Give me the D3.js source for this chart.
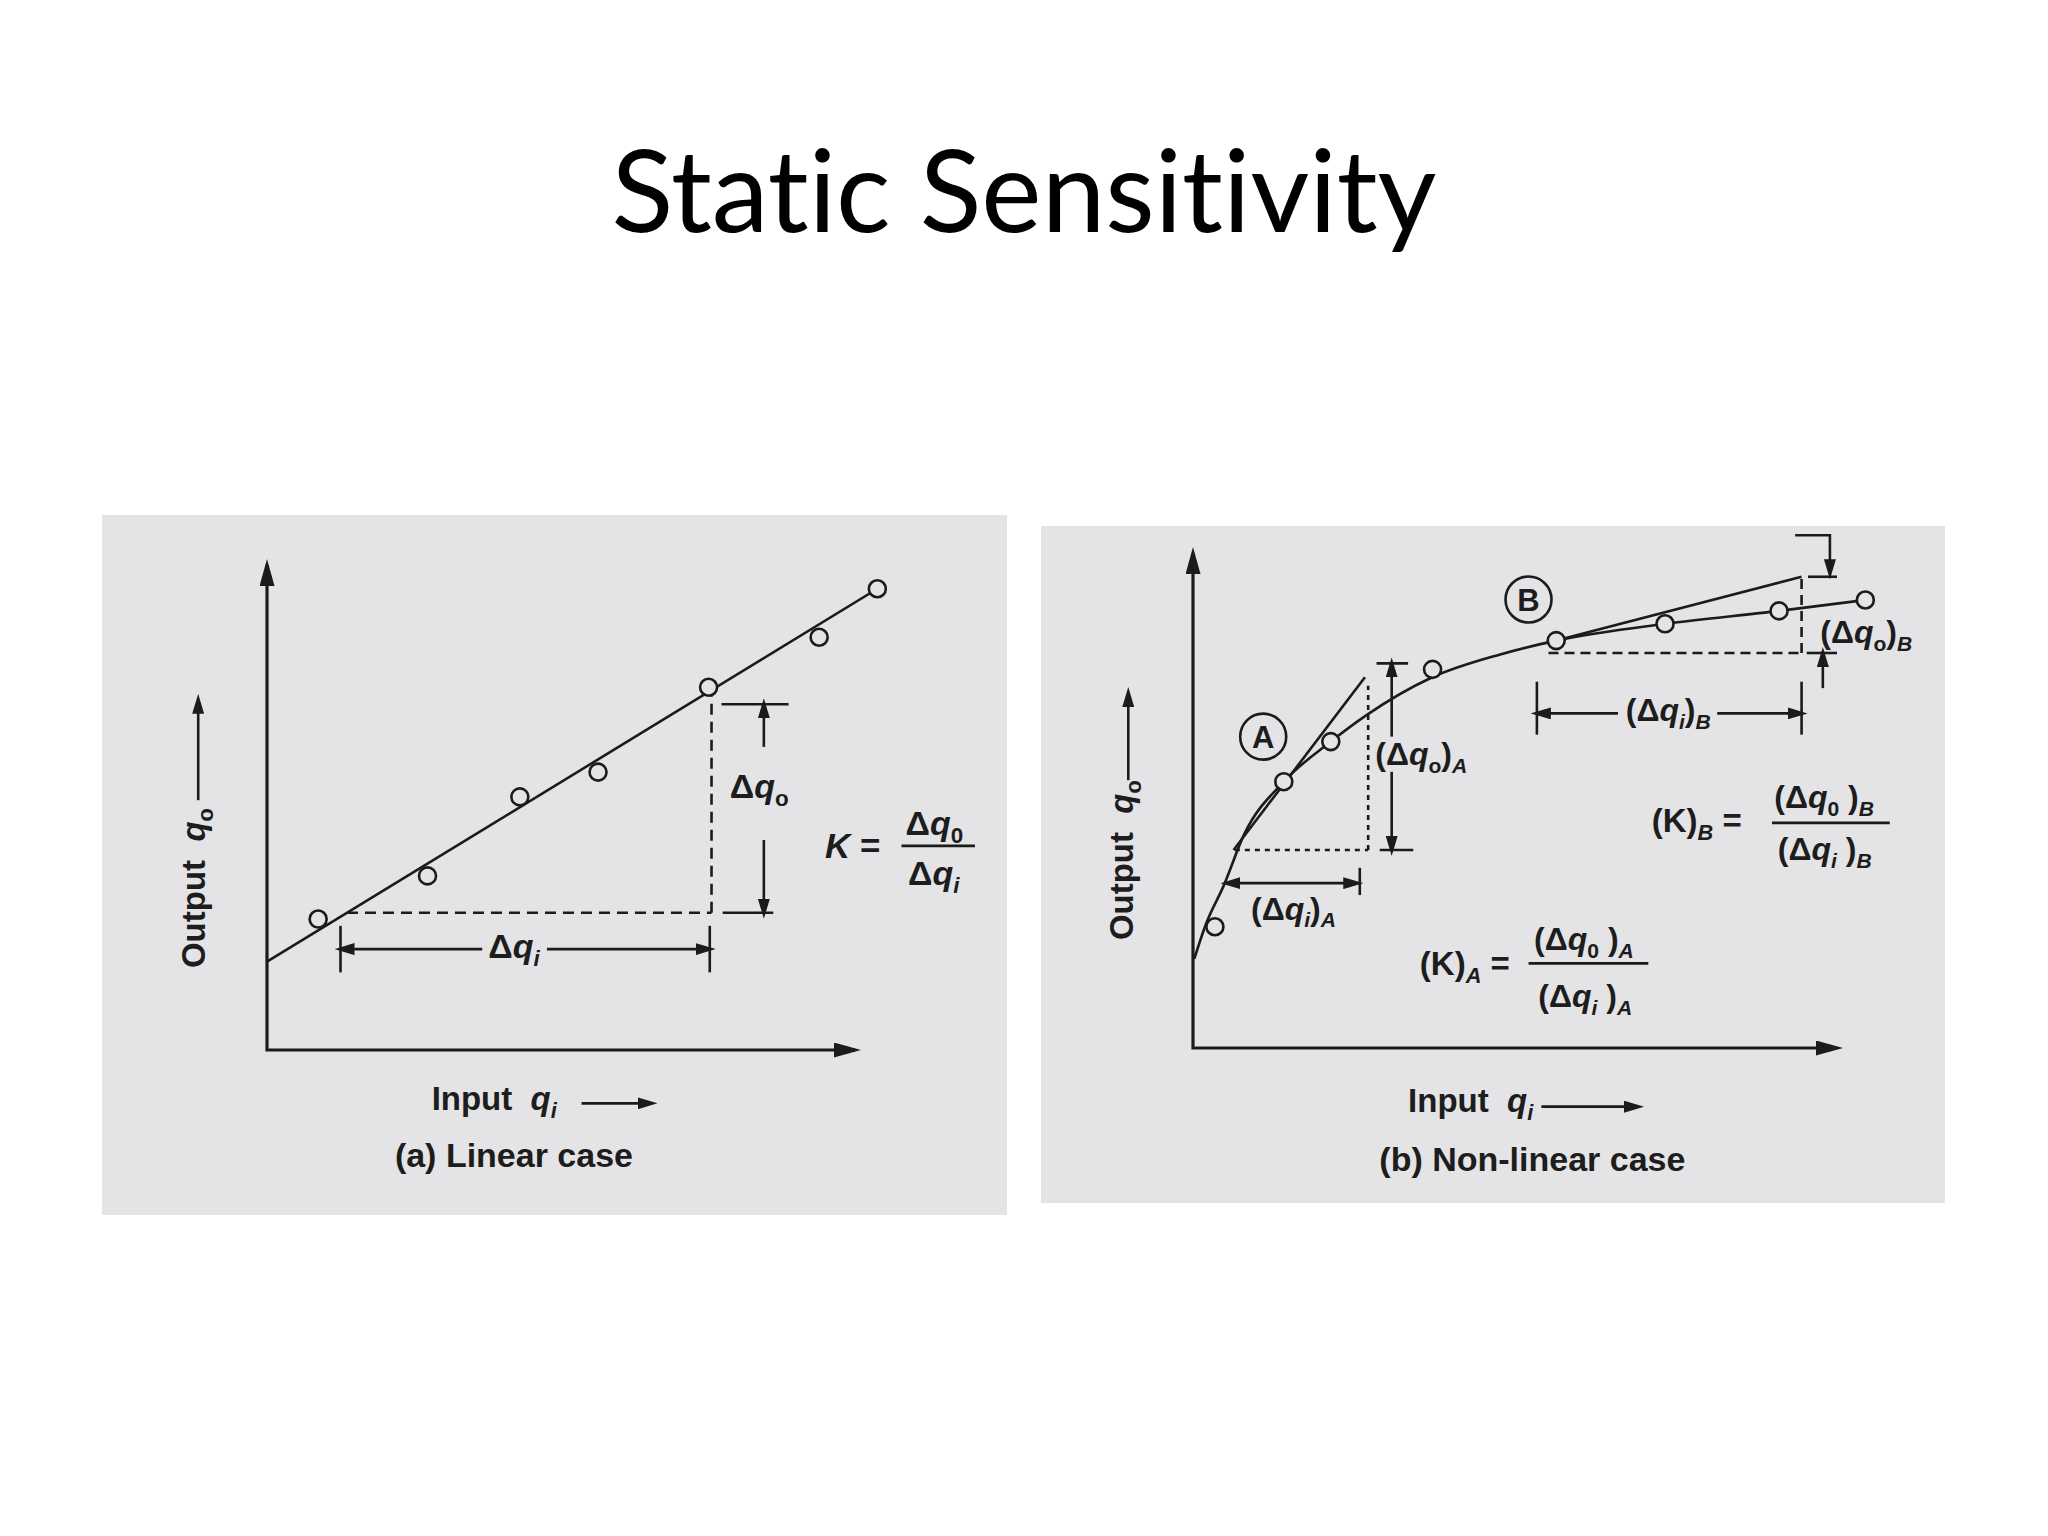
<!DOCTYPE html>
<html>
<head>
<meta charset="utf-8">
<script src="https://cdn.jsdelivr.net/npm/d3@7"></script>
<style>
    html, body { margin: 0; padding: 0; background: #fff; }
    svg text { font-family: "Liberation Sans", Arial, sans-serif; font-weight: bold; fill: #1d1d1d; white-space: pre; font-variant-ligatures: none; }
</style>
</head>
<body>
<svg id="slide"></svg>
<script>

// ---- data (axis units: 0-100 along each drawn axis arrow) ----

// (a) linear case: calibration points and the fitted straight line
const linInput  = [8.7, 27.3, 43.0, 56.3, 75.1, 93.9, 103.8]
const linOutput = [27.0, 35.9, 52.2, 57.3, 74.8, 85.1, 95.1]
const linFitIn  = [0, 103.8]
const linFitOut = [18.2, 95.1]

// (b) non-linear case: calibration points, calibration curve and the two tangents
const nlInput  = [3.4, 14.1, 21.4, 37.2, 56.4, 73.3, 91.0, 104.4]
const nlOutput = [24.5, 53.8, 61.9, 76.5, 82.3, 85.7, 88.3, 90.5]
const nlCurveIn  = [0.2, 2, 4.7, 8, 14.1, 21.4, 27, 37, 47.7, 56.4, 73.3, 91.0, 104.4]
const nlCurveOut = [18, 25, 32.6, 43.3, 53.8, 61.9, 67.3, 74.8, 79.5, 82.3, 85.7, 88.3, 90.5]
const tangentAIn  = [6.3, 26.7]
const tangentAOut = [40.0, 74.9]
const tangentBIn  = [56.4, 94.5]
const tangentBOut = [82.3, 95.2]

// labels
const titleText = 'Static Sensitivity'
const captionA = '(a) Linear case'
const captionB = '(b) Non-linear case'

const ink = '#1b1b1b'
const bg = '#e4e4e6'

const svg = d3.select('#slide')
    .attr('width', 2048)
    .attr('height', 1536)

svg.append('rect')
    .attr('width', 2048)
    .attr('height', 1536)
    .attr('fill', '#fff')

// arrow heads
const defs = svg.append('defs')
const makeMarker = (id, len, half) => {
    defs.append('marker')
        .attr('id', id)
        .attr('viewBox', `${-len} ${-half} ${len + 3} ${half * 2}`)
        .attr('refX', -3)
        .attr('refY', 0)
        .attr('markerUnits', 'userSpaceOnUse')
        .attr('markerWidth', len + 3)
        .attr('markerHeight', half * 2)
        .attr('orient', 'auto-start-reverse')
        .append('path')
        .attr('d', `M3,0L${-len},${-half}L${-len},${half}Z`)
        .attr('fill', ink)
}
makeMarker('ax', 24, 7.5)
makeMarker('ah', 17, 6)

// title
const title = svg.append('text')
    .attr('x', 1024)
    .attr('y', 232)
    .attr('text-anchor', 'middle')
    .style('font-family', 'Lato, "Open Sans", sans-serif')
    .style('font-weight', 'normal')
    .style('fill', '#000')
    .style('font-size', '120px')
    .text(titleText)
const tw = title.node().getComputedTextLength()
title.style('font-size', (120 * 825 / tw) + 'px')

// text with italic / subscript pieces: segs = [[string, flags]] flags: i = italic, s = subscript
const rich = (g, x, y, segs, opt = {}) => {
    const size = opt.size || 33
    const t = g.append('text')
        .attr('x', x)
        .attr('y', y)
        .attr('text-anchor', opt.anchor || 'start')
        .style('font-size', size + 'px')
    if (opt.rotate) t.attr('transform', `rotate(${opt.rotate},${x},${y})`)
    const shift = size * 0.24
    let down = false
    segs.forEach(([str, flags = '']) => {
        const sp = t.append('tspan').text(str)
        if (flags.includes('i')) sp.style('font-style', 'italic')
        const sub = flags.includes('s')
        if (sub) sp.style('font-size', (size * 0.66) + 'px')
        if (sub && !down) { sp.attr('dy', shift); down = true }
        else if (!sub && down) { sp.attr('dy', -shift); down = false }
    })
    return t
}

const makePanel = (box, s) => {
    const g = svg.append('g')
    g.append('rect')
        .attr('x', box[0])
        .attr('y', box[1])
        .attr('width', box[2] - box[0])
        .attr('height', box[3] - box[1])
        .attr('fill', bg)

    const line = (pts, o = {}) => {
        const p = g.append('path')
            .attr('d', d3.line().x(d => s.x(d[0])).y(d => s.y(d[1])).curve(o.curve || d3.curveLinear)(pts))
            .attr('fill', 'none')
            .attr('stroke', ink)
            .attr('stroke-width', o.w || 2.6)
        if (o.dash) p.attr('stroke-dasharray', o.dash)
        if (o.end) p.attr('marker-end', `url(#${o.end})`)
        if (o.start) p.attr('marker-start', `url(#${o.start})`)
        return p
    }
    const text = (x, y, segs, o) => rich(g, s.x(x), s.y(y), segs, o)

    // axes
    line([[0, 100], [0, 0], [100, 0]], { w: 3.2, end: 'ax', start: 'ax' })

    return { g, s, line, text }
}

// ---------- (a) linear case ----------
const A = makePanel([102, 515, 1007, 1215], {
    x: d3.scaleLinear().domain([0, 100]).range([267, 855]),
    y: d3.scaleLinear().domain([0, 100]).range([1050, 565])
})

A.line(d3.zip(linFitIn, linFitOut))

// construction lines
A.line([[13.6, 28.3], [75.6, 28.3]], { dash: '11,7' })
A.line([[75.6, 28.3], [75.6, 74.3]], { dash: '11,7' })
A.line([[77.5, 28.3], [86.1, 28.3]])
A.line([[77.3, 71.3], [88.7, 71.3]])
A.line([[84.5, 62.5], [84.5, 71.3]], { end: 'ah' })
A.line([[84.5, 43.3], [84.5, 28.3]], { end: 'ah' })
A.text(78.7, 51.9, [['Δ'], ['q', 'i'], ['o', 's']], { size: 34 })

// input span
A.line([[12.5, 16.0], [12.5, 25.6]])
A.line([[75.3, 16.0], [75.3, 25.6]])
A.line([[36.6, 20.8], [12.5, 20.8]], { end: 'ah' })
A.line([[47.6, 20.8], [75.3, 20.8]], { end: 'ah' })
A.text(42.0, 19.0, [['Δ'], ['q', 'i'], ['i', 'si']], { anchor: 'middle', size: 34 })

// K = dq0 / dqi
A.text(94.9, 39.5, [['K', 'i'], [' =']], { size: 35 })
A.line([[107.9, 42.1], [120.4, 42.1]], { w: 2.8 })
A.text(113.5, 44.3, [['Δ'], ['q', 'i'], ['0', 's']], { anchor: 'middle', size: 34 })
A.text(113.4, 34.0, [['Δ'], ['q', 'i'], ['i', 'si']], { anchor: 'middle', size: 34 })

A.g.selectAll('circle.pt')
    .data(d3.zip(linInput, linOutput))
    .join('circle')
    .attr('class', 'pt')
    .attr('cx', d => A.s.x(d[0]))
    .attr('cy', d => A.s.y(d[1]))
    .attr('r', 8.5)
    .attr('fill', bg)
    .attr('stroke', ink)
    .attr('stroke-width', 2.6)

// axis labels and caption
A.text(-10.5, 16.9, [['Output  '], ['q', 'i'], ['o', 's']], { rotate: -90 })
A.line([[-11.7, 51.5], [-11.7, 72.2]], { end: 'ah' })
A.text(28.0, -12.4, [['Input  '], ['q', 'i'], ['i', 'si']])
A.line([[53.5, -11.0], [65.4, -11.0]], { end: 'ah' })
A.text(42.0, -24.1, [[captionA]], { anchor: 'middle', size: 34 })

// ---------- (b) non-linear case ----------
const B = makePanel([1041, 526, 1945, 1203], {
    x: d3.scaleLinear().domain([0, 100]).range([1193, 1837]),
    y: d3.scaleLinear().domain([0, 100]).range([1048, 553])
})

B.line(d3.zip(nlCurveIn, nlCurveOut), { curve: d3.curveMonotoneX })
B.line(d3.zip(tangentAIn, tangentAOut))
B.line(d3.zip(tangentBIn, tangentBOut))

// region A construction
B.line([[6.5, 40.0], [27.2, 40.0]], { dash: '5,5' })
B.line([[27.2, 40.0], [27.2, 73.2]], { dash: '5,5' })
B.line([[29.0, 40.0], [34.2, 40.0]])
B.line([[28.5, 77.7], [33.4, 77.7]])
B.line([[30.85, 62.9], [30.85, 77.7]], { end: 'ah' })
B.line([[30.85, 55.8], [30.85, 40.0]], { end: 'ah' })
B.text(28.3, 57.2, [['(Δ'], ['q', 'i'], ['o', 's'], [')'], ['A', 'si']], { size: 32 })
B.line([[5.2, 33.3], [25.5, 33.3]], { start: 'ah', end: 'ah' })
B.line([[25.9, 30.9], [25.9, 36.4]])
B.text(15.6, 25.9, [['(Δ'], ['q', 'i'], ['i', 'si'], [')'], ['A', 'si']], { anchor: 'middle', size: 32 })

// region B construction
B.line([[55.2, 79.8], [94.5, 79.8]], { dash: '10,6' })
B.line([[94.5, 79.8], [94.5, 95.2]], { dash: '10,6' })
B.line([[95.3, 79.8], [100.0, 79.8]])
B.line([[95.5, 95.2], [100.0, 95.2]])
B.line([[93.5, 103.6], [98.9, 103.6], [98.9, 95.9]], { end: 'ah' })
B.line([[97.8, 72.7], [97.8, 79.8]], { end: 'ah' })
B.text(97.4, 81.75, [['(Δ'], ['q', 'i'], ['o', 's'], [')'], ['B', 'si']], { size: 32 })
B.line([[53.4, 63.3], [53.4, 74.0]])
B.line([[94.5, 63.3], [94.5, 74.0]])
B.line([[66.0, 67.6], [53.4, 67.6]], { end: 'ah' })
B.line([[81.4, 67.6], [94.5, 67.6]], { end: 'ah' })
B.text(73.8, 66.0, [['(Δ'], ['q', 'i'], ['i', 'si'], [')'], ['B', 'si']], { anchor: 'middle', size: 32 })

// circled region letters
;[['A', 10.9, 62.9], ['B', 52.1, 90.6]].forEach(([k, x, y]) => {
    B.g.append('circle')
        .attr('cx', B.s.x(x))
        .attr('cy', B.s.y(y))
        .attr('r', 23)
        .attr('fill', 'none')
        .attr('stroke', ink)
        .attr('stroke-width', 2.6)
    B.g.append('text')
        .attr('x', B.s.x(x))
        .attr('y', B.s.y(y) + 11)
        .attr('text-anchor', 'middle')
        .style('font-size', '31px')
        .text(k)
})

// sensitivity formulas
B.text(85.2, 43.7, [['(K)'], ['B', 'si'], [' =']], { anchor: 'end', size: 33 })
B.line([[89.9, 45.5], [108.2, 45.5]], { w: 2.8 })
B.text(98.0, 48.5, [['(Δ'], ['q', 'i'], ['0', 's'], [' )'], ['B', 'si']], { anchor: 'middle', size: 32 })
B.text(98.1, 38.0, [['(Δ'], ['q', 'i'], ['i', 'si'], [' )'], ['B', 'si']], { anchor: 'middle', size: 32 })

B.text(49.2, 14.75, [['(K)'], ['A', 'si'], [' =']], { anchor: 'end', size: 33 })
B.line([[52.1, 17.1], [70.7, 17.1]], { w: 2.8 })
B.text(60.7, 19.8, [['(Δ'], ['q', 'i'], ['0', 's'], [' )'], ['A', 'si']], { anchor: 'middle', size: 32 })
B.text(60.9, 8.3, [['(Δ'], ['q', 'i'], ['i', 'si'], [' )'], ['A', 'si']], { anchor: 'middle', size: 32 })

B.g.selectAll('circle.pt')
    .data(d3.zip(nlInput, nlOutput))
    .join('circle')
    .attr('class', 'pt')
    .attr('cx', d => B.s.x(d[0]))
    .attr('cy', d => B.s.y(d[1]))
    .attr('r', 8.5)
    .attr('fill', bg)
    .attr('stroke', ink)
    .attr('stroke-width', 2.6)

// axis labels and caption
B.text(-9.3, 21.8, [['Output  '], ['q', 'i'], ['o', 's']], { rotate: -90 })
B.line([[-10.05, 54.1], [-10.05, 71.7]], { end: 'ah' })
B.text(33.4, -12.9, [['Input  '], ['q', 'i'], ['i', 'si']])
B.line([[54.1, -11.85], [69.1, -11.85]], { end: 'ah' })
B.text(52.7, -24.9, [[captionB]], { anchor: 'middle', size: 34 })

</script>
</body>
</html>
